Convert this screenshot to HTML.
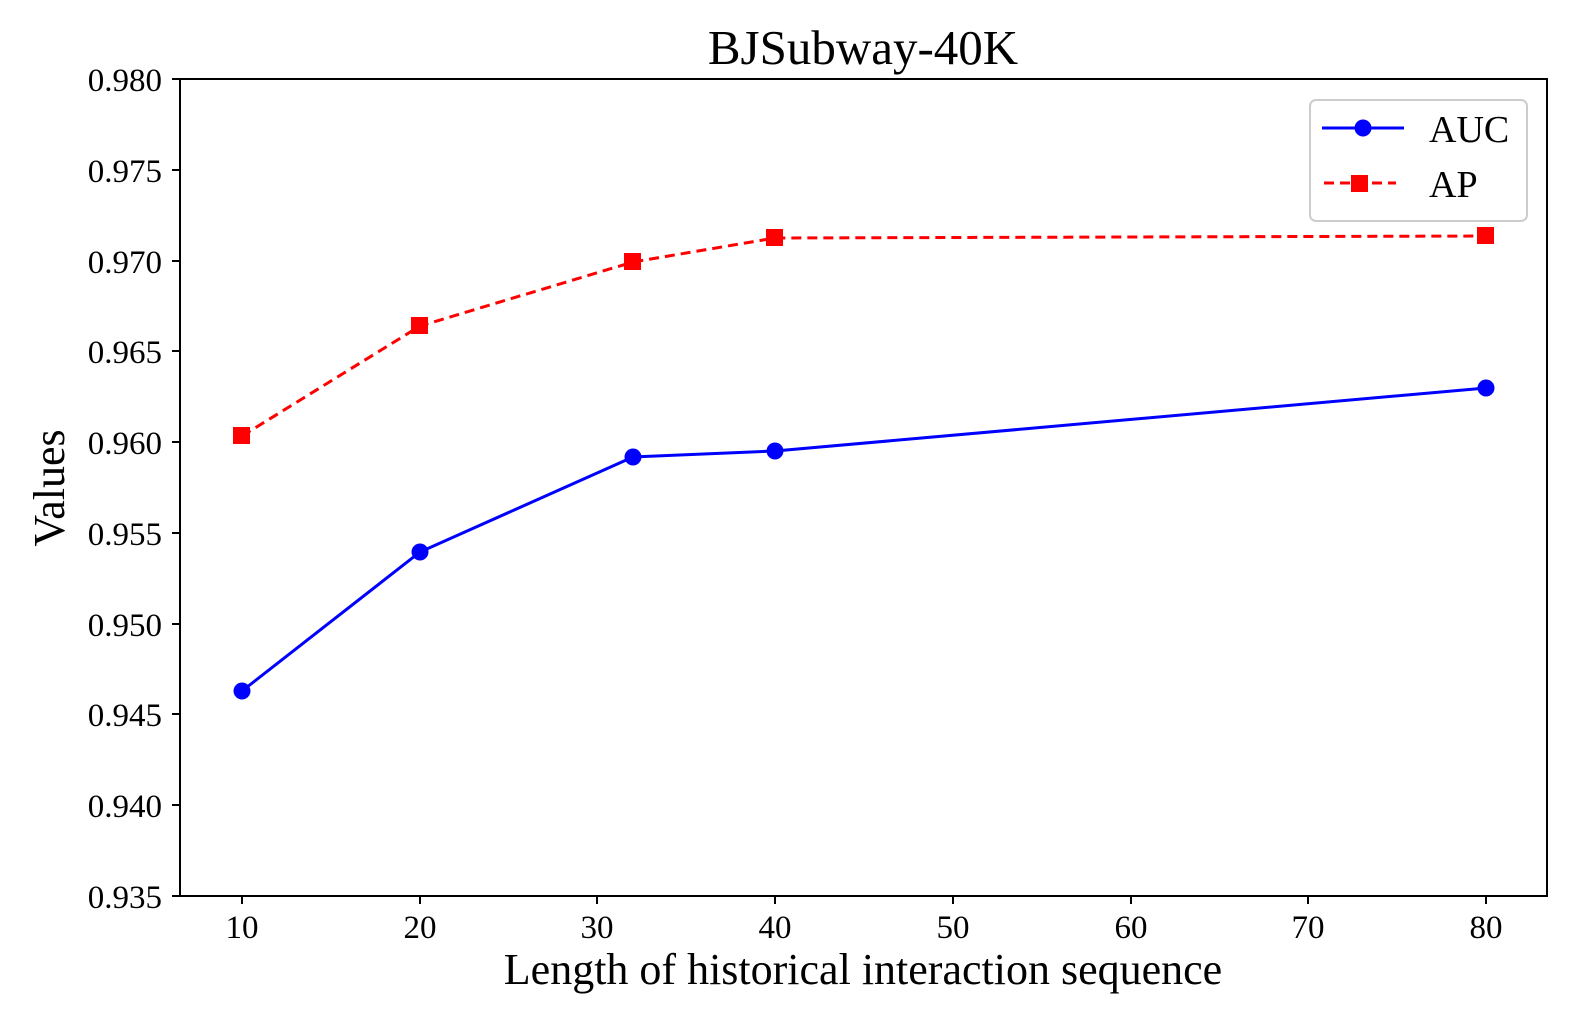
<!DOCTYPE html>
<html><head><style>body{margin:0;background:#fff}</style></head><body>
<svg width="1574" height="1020" xmlns="http://www.w3.org/2000/svg" font-family="Liberation Serif, serif">
<rect width="1574" height="1020" fill="#fff"/>
<text x="863" y="64" font-size="49" text-anchor="middle">BJSubway-40K</text>
<g stroke="#000" stroke-width="2">
<rect x="180" y="79" width="1367" height="817" fill="none"/>
<line x1="172" y1="79" x2="180" y2="79"/><line x1="172" y1="170" x2="180" y2="170"/>
<line x1="172" y1="261" x2="180" y2="261"/><line x1="172" y1="351" x2="180" y2="351"/>
<line x1="172" y1="442" x2="180" y2="442"/><line x1="172" y1="533" x2="180" y2="533"/>
<line x1="172" y1="624" x2="180" y2="624"/><line x1="172" y1="714" x2="180" y2="714"/>
<line x1="172" y1="805" x2="180" y2="805"/><line x1="172" y1="896" x2="180" y2="896"/>
<line x1="242" y1="896" x2="242" y2="904"/><line x1="420" y1="896" x2="420" y2="904"/>
<line x1="597" y1="896" x2="597" y2="904"/><line x1="775" y1="896" x2="775" y2="904"/>
<line x1="953" y1="896" x2="953" y2="904"/><line x1="1131" y1="896" x2="1131" y2="904"/>
<line x1="1308" y1="896" x2="1308" y2="904"/><line x1="1486" y1="896" x2="1486" y2="904"/>
</g>
<g font-size="33" text-anchor="end">
<text x="162" y="91">0.980</text><text x="162" y="182">0.975</text><text x="162" y="273">0.970</text>
<text x="162" y="363">0.965</text><text x="162" y="454">0.960</text><text x="162" y="545">0.955</text>
<text x="162" y="636">0.950</text><text x="162" y="726">0.945</text><text x="162" y="817">0.940</text>
<text x="162" y="908">0.935</text>
</g>
<g font-size="33" text-anchor="middle">
<text x="242" y="938">10</text><text x="420" y="938">20</text><text x="597" y="938">30</text>
<text x="775" y="938">40</text><text x="953" y="938">50</text><text x="1131" y="938">60</text>
<text x="1308" y="938">70</text><text x="1486" y="938">80</text>
</g>
<text x="863" y="984" font-size="44" text-anchor="middle">Length of historical interaction sequence</text>
<text transform="translate(64,488) rotate(-90)" font-size="44" text-anchor="middle">Values</text>
<polyline points="242,436 420,326 633,262 775,238 1486,236" fill="none" stroke="#f00" stroke-width="3" stroke-dasharray="10,6"/>
<g fill="#f00">
<rect x="233" y="427" width="17" height="17"/><rect x="411" y="317" width="17" height="17"/>
<rect x="624" y="253" width="17" height="17"/><rect x="766" y="229" width="17" height="17"/>
<rect x="1477" y="227" width="17" height="17"/>
</g>
<polyline points="242,691 420,552 633,457 775,451 1486,388" fill="none" stroke="#00f" stroke-width="3"/>
<g fill="#00f">
<circle cx="242" cy="691" r="8.5"/><circle cx="420" cy="552" r="8.5"/><circle cx="633" cy="457" r="8.5"/>
<circle cx="775" cy="451" r="8.5"/><circle cx="1486" cy="388" r="8.5"/>
</g>
<rect x="1310" y="100" width="217" height="121" rx="6" fill="#fff" stroke="#ccc" stroke-width="2"/>
<line x1="1322" y1="128" x2="1404" y2="128" stroke="#00f" stroke-width="3"/>
<circle cx="1363" cy="128" r="8.5" fill="#00f"/>
<line x1="1324" y1="183" x2="1396" y2="183" stroke="#f00" stroke-width="3" stroke-dasharray="10,6"/>
<rect x="1351" y="175" width="17" height="17" fill="#f00"/>
<text x="1429" y="142" font-size="38">AUC</text>
<text x="1429" y="197" font-size="38">AP</text>
</svg>
</body></html>
